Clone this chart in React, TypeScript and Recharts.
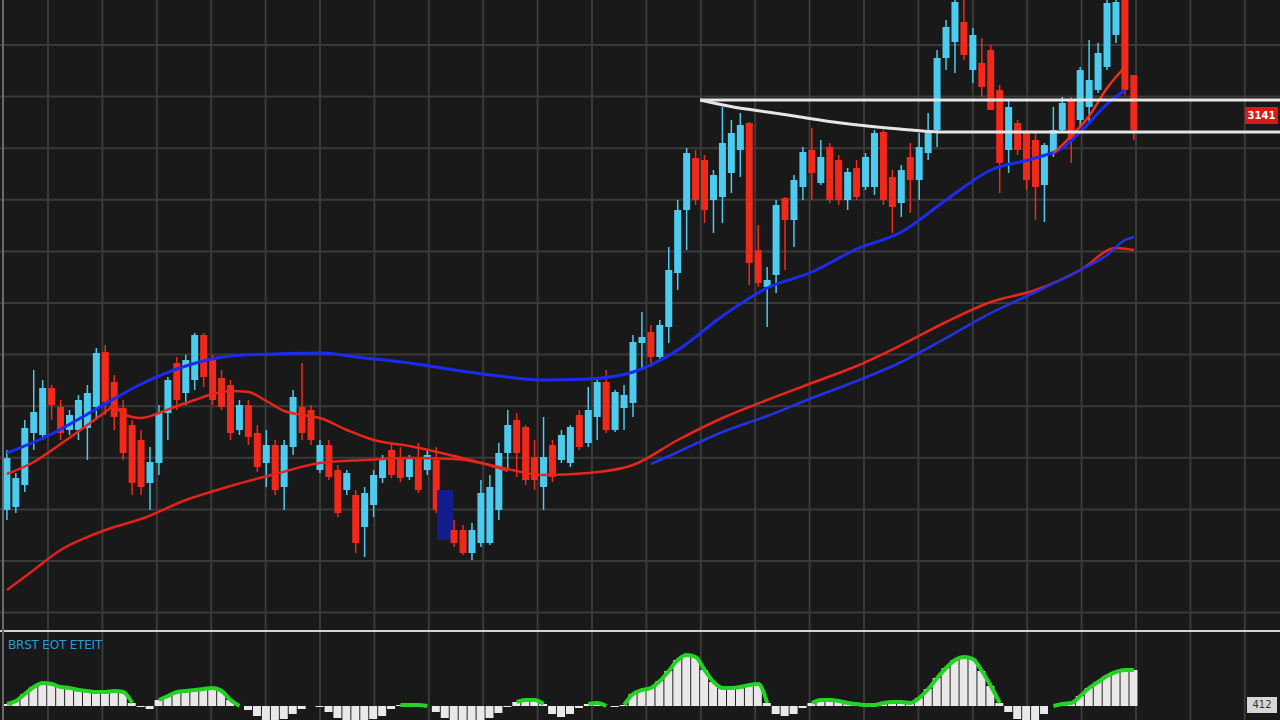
import React from "react";
import { ComposedChart, Bar, Line, XAxis, YAxis, CartesianGrid } from "recharts";

// OHLC, one entry per candle (left to right)
const opens = [
  190, 193, 215, 267, 265, 312, 293, 270, 270, 272,
  293, 348, 318, 292, 275, 260, 217, 237, 287, 337,
  307, 320, 365, 340, 322, 315, 270, 295, 267, 237,
  255, 213, 253, 293, 290, 230, 255, 230, 210, 205,
  173, 195, 222, 250, 243, 223, 243, 230, 240, 210,
  170, 170, 147, 157, 157, 190, 247, 280, 273, 243,
  213, 255, 240, 237, 285, 257, 283, 318, 270, 292,
  297, 357, 368, 343, 373, 427, 490, 542, 540, 500,
  503, 527, 550, 577, 450, 413, 425, 502, 480, 513,
  550, 517, 553, 540, 500, 532, 513, 513, 568, 523,
  497, 543, 520, 547, 570, 642, 658, 678, 630, 637,
  650, 610, 550, 577, 567, 560, 515, 547, 570, 600,
  580, 593, 610, 633, 665, 710, 625,
];
const highs = [
  250, 227, 280, 330, 320, 315, 300, 290, 305, 315,
  352, 355, 325, 300, 280, 270, 253, 295, 323, 343,
  345, 367, 367, 345, 330, 320, 300, 300, 275, 270,
  260, 260, 310, 337, 295, 260, 260, 235, 230, 210,
  213, 230, 245, 257, 253, 245, 257, 250, 253, 210,
  180, 175, 177, 220, 225, 257, 290, 287, 275, 260,
  283, 260, 270, 275, 290, 313, 323, 330, 310, 315,
  365, 388, 375, 380, 453, 500, 552, 550, 545, 530,
  593, 580, 587, 578, 475, 433, 500, 503, 525, 553,
  572, 560, 557, 545, 532, 540, 547, 570, 570, 530,
  535, 557, 567, 587, 650, 680, 710, 710, 672, 662,
  655, 615, 600, 580, 570, 567, 557, 593, 603, 603,
  633, 660, 657, 710, 710, 710, 625,
];
const lows = [
  180, 187, 208, 250, 260, 280, 260, 265, 260, 240,
  280, 285, 270, 240, 205, 205, 190, 225, 260, 290,
  295, 310, 313, 295, 290, 260, 265, 255, 228, 213,
  205, 190, 245, 260, 255, 227, 220, 183, 205, 147,
  143, 183, 217, 222, 218, 220, 207, 225, 187, 160,
  153, 145, 140, 153, 155, 180, 230, 223, 215, 210,
  190, 218, 237, 233, 250, 253, 260, 267, 268, 270,
  283, 330, 333, 340, 357, 410, 450, 495, 477, 467,
  477, 507, 523, 415, 413, 373, 407, 430, 453, 500,
  500, 515, 497, 495, 490, 500, 510, 505, 495, 467,
  483, 487, 500, 540, 553, 630, 627, 640, 617, 603,
  590, 507, 527, 545, 510, 480, 478, 543, 567, 537,
  573, 577, 607, 630, 657, 605, 560,
];
const closes = [
  242, 222, 272, 288, 312, 295, 267, 285, 300, 307,
  347, 298, 283, 247, 217, 213, 238, 287, 320, 300,
  340, 365, 323, 300, 293, 267, 295, 263, 233, 255,
  210, 255, 303, 267, 260, 255, 223, 187, 227, 157,
  207, 225, 242, 225, 222, 242, 210, 245, 190, 160,
  157, 147, 170, 207, 213, 247, 275, 247, 220, 220,
  243, 223, 265, 273, 253, 290, 318, 270, 308, 305,
  358, 363, 343, 375, 430, 490, 547, 500, 490, 525,
  557, 567, 575, 437, 417, 420, 495, 480, 520, 548,
  527, 543, 500, 500, 528, 503, 543, 567, 500, 493,
  530, 520, 553, 570, 642, 673, 698, 645, 665, 613,
  590, 537, 593, 550, 520, 513, 555, 570, 597, 560,
  630, 620, 647, 697, 698, 610, 570,
];
const navyCandles = [49];

// moving averages, sampled at candle indices
const blueSlowIdx = [0, 5, 10, 15, 20, 25, 30, 35, 40, 45, 50, 55, 60, 65, 70, 75, 80, 85, 90, 95, 100, 105, 110, 115, 118, 120, 123, 125];
const blueSlow = [247, 266, 291, 316, 334, 344, 346, 347, 342, 337, 330, 324, 320, 321, 328, 350, 384, 412, 428, 451, 468, 500, 530, 542, 552, 568, 596, 610];

const redMidIdx = [0, 3, 6, 9, 11, 12, 13, 15, 17, 19, 21, 23, 25, 27, 29, 31, 33, 35, 38, 41, 45, 50, 55, 60, 65, 70, 75, 80, 85, 90, 95, 100, 105, 110, 115, 120, 124, 126];
const redMid = [226, 238, 256, 275, 288, 294, 286, 282, 287, 294, 300, 306, 309, 308, 299, 289, 285, 282, 270, 260, 254, 244, 233, 225, 227, 235, 260, 282, 300, 317, 334, 355, 378, 398, 410, 430, 452, 450];

const redLongIdx = [0, 3, 6, 9, 12, 15, 20, 25, 30, 35, 40, 45, 50, 55, 56];
const redLong = [110, 130, 150, 163, 173, 181, 200, 214, 226, 237, 240, 242, 241, 232, 229];

const blueMidIdx = [72, 75, 80, 85, 90, 95, 100, 105, 110, 115, 120, 123, 125, 126];
const blueMid = [236, 248, 268, 284, 302, 319, 338, 362, 387, 408, 430, 445, 460, 463];

const redFastIdx = [117, 119, 121, 123, 125];
const redFast = [547, 564, 584, 612, 633];

// resistance lines
const resistFlatIdx = [77.5, 142.33];
const resistFlat = [600, 600];
const resistCurveIdx = [77.5, 81.2, 85.0, 88.7, 92.4, 96.2, 99.8, 104.3, 142.33];
const resistCurve = [600, 593, 588, 583, 578, 574, 571, 568, 568];

// oscillator histogram, one per candle
const osc = [
  2, 5, 12, 19, 23, 22, 19, 18, 16, 15,
  14, 14, 15, 14, 3, -1, -3, 6, 10, 14,
  15, 16, 17, 18, 15, 6, 0, -4, -10, -14,
  -14, -13, -8, -3, 0, -1, -6, -12, -14, -14,
  -14, -13, -10, -3, 1, 1, 1, 0, -6, -12,
  -14, -14, -14, -14, -12, -7, -1, 4, 6, 6,
  2, -8, -11, -8, -2, 2, 3, 0, -1, 1,
  12, 16, 18, 25, 35, 46, 51, 49, 36, 24,
  18, 18, 19, 21, 22, 3, -8, -10, -8, -2,
  3, 6, 6, 5, 3, 2, 1, 1, 3, 4,
  4, 3, 8, 17, 28, 38, 46, 49, 47, 35,
  20, 3, -6, -13, -14, -14, -8, 0, 2, 3,
  10, 18, 24, 30, 34, 36, 36,
];

const oscLabel = "BRST EOT ETEIT";
const priceTag = "3141";
const cornerTag = "412";

const BG = "#191919";
const GRID = "#3a3a3a";
const X_DOMAIN: [number, number] = [-0.78, 142.33];

const candles = opens.map((o, i) => ({
  i,
  o,
  h: highs[i],
  l: lows[i],
  c: closes[i],
  range: [lows[i], highs[i]],
  navy: navyCandles.includes(i),
}));

const series = (idx: number[], vals: number[]) => idx.map((i, k) => ({ i, v: vals[k] }));

const oscRows = osc.map((v, i) => ({ i, v, pos: v >= 0 ? v : null }));

const vGrid = Array.from({ length: 23 }, (_, k) => 48 + k * 54.4);
const hGrid = Array.from({ length: 12 }, (_, k) => 45 + k * 51.6);

function Candle(props: any) {
  const { x, y, width, height, payload } = props;
  if (payload == null || height == null) return null;
  const { o, h, l, c, navy } = payload;
  const top = Math.min(y, y + height);
  const bottom = Math.max(y, y + height);
  const py = (v: number) => top + ((h - v) / (h - l)) * (bottom - top);
  const cx = x + width / 2;
  const color = navy ? "#121c8c" : c >= o ? "#4ccbef" : "#f0291b";
  const bw = navy ? 16 : 7;
  const bTop = py(Math.max(o, c));
  const bBot = py(Math.min(o, c));
  return (
    <g>
      <line x1={cx} x2={cx} y1={top} y2={bottom} stroke={color} strokeWidth={1.5} />
      <rect x={cx - bw / 2} y={bTop} width={bw} height={Math.max(2, bBot - bTop)} fill={color} />
    </g>
  );
}

const lineProps = { dataKey: "v", dot: false, activeDot: false, isAnimationActive: false } as const;

export default function App() {
  return (
    <div style={{ position: "relative", width: 1280, height: 720, background: BG, overflow: "hidden" }}>
      <style>{`body{margin:0;background:${BG}}`}</style>

      <div style={{ position: "absolute", left: 0, top: 0 }}>
        <ComposedChart width={1280} height={630} data={candles} margin={{ top: 0, right: 0, bottom: 0, left: 0 }}>
          <CartesianGrid stroke={GRID} strokeWidth={2} verticalPoints={vGrid} horizontalPoints={hGrid} />
          <XAxis dataKey="i" type="number" domain={X_DOMAIN} hide allowDataOverflow />
          <YAxis type="number" domain={[70, 700]} hide allowDataOverflow />
          <Bar dataKey="range" barSize={7} shape={<Candle />} isAnimationActive={false} />
          <Line {...lineProps} data={series(redLongIdx, redLong)} type="monotone" stroke="#e3221c" strokeWidth={2.5} />
          <Line {...lineProps} data={series(redMidIdx, redMid)} type="monotone" stroke="#e8261c" strokeWidth={2.5} />
          <Line {...lineProps} data={series(blueMidIdx, blueMid)} type="monotone" stroke="#2232e6" strokeWidth={2.5} />
          <Line {...lineProps} data={series(blueSlowIdx, blueSlow)} type="monotone" stroke="#1b2cf2" strokeWidth={3} />
          <Line {...lineProps} data={series(redFastIdx, redFast)} type="monotone" stroke="#f2301e" strokeWidth={2.5} />
          <Line {...lineProps} data={series(resistFlatIdx, resistFlat)} type="linear" stroke="#e6e6e6" strokeWidth={3} />
          <Line {...lineProps} data={series(resistCurveIdx, resistCurve)} type="monotone" stroke="#e6e6e6" strokeWidth={3} />
        </ComposedChart>
      </div>

      <div style={{ position: "absolute", left: 0, top: 630, width: 1280, height: 2, background: "#d4d4d4" }} />

      <div style={{ position: "absolute", left: 0, top: 632 }}>
        <ComposedChart width={1280} height={88} data={oscRows} margin={{ top: 0, right: 0, bottom: 0, left: 0 }}>
          <CartesianGrid stroke={GRID} strokeWidth={2} horizontal={false} verticalPoints={vGrid} />
          <XAxis dataKey="i" type="number" domain={X_DOMAIN} hide allowDataOverflow />
          <YAxis type="number" domain={[-14, 74]} hide allowDataOverflow />
          <Bar dataKey="v" barSize={8} fill="#ebe8ea" isAnimationActive={false} />
          <Line dataKey="pos" type="monotone" stroke="#22d422" strokeWidth={4} dot={false} activeDot={false} connectNulls={false} isAnimationActive={false} />
        </ComposedChart>
      </div>

      <div style={{ position: "absolute", left: 2, top: 0, width: 2, height: 720, background: "#6a6a6a" }} />

      <div
        style={{
          position: "absolute",
          left: 8,
          top: 638,
          color: "#2d9dd8",
          fontFamily: "'DejaVu Sans', sans-serif",
          fontSize: 12,
          letterSpacing: -0.2,
        }}
      >
        {oscLabel}
      </div>

      <div
        style={{
          position: "absolute",
          left: 1245,
          top: 107,
          width: 33,
          height: 17,
          background: "#d81a18",
          color: "#ffffff",
          fontFamily: "'DejaVu Sans', sans-serif",
          fontSize: 10,
          fontWeight: 700,
          lineHeight: "17px",
          textAlign: "center",
        }}
      >
        {priceTag}
      </div>

      <div
        style={{
          position: "absolute",
          left: 1247,
          top: 697,
          width: 30,
          height: 16,
          background: "#d6d6d6",
          color: "#333333",
          fontFamily: "'DejaVu Sans', sans-serif",
          fontSize: 10,
          lineHeight: "16px",
          textAlign: "center",
        }}
      >
        {cornerTag}
      </div>
    </div>
  );
}
